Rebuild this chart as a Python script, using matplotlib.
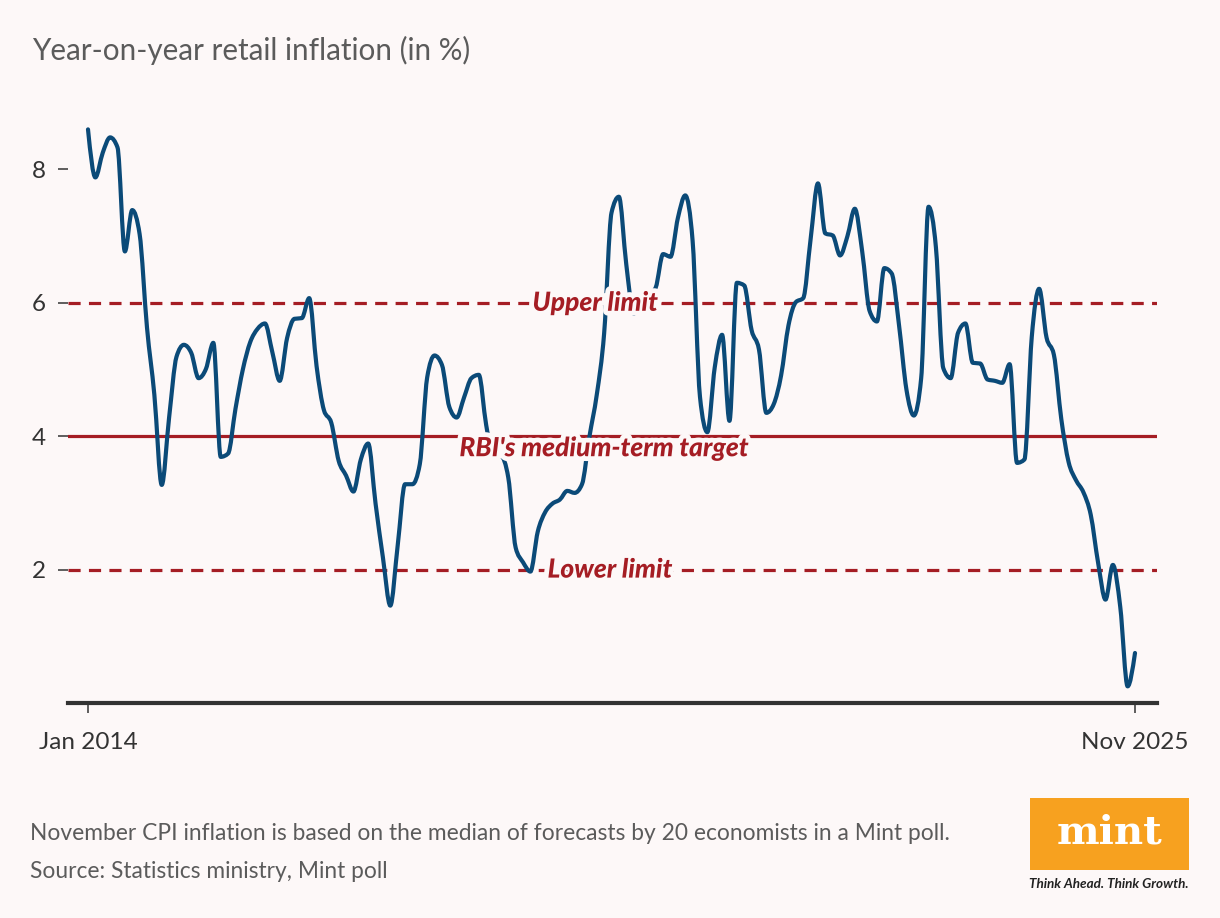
import numpy as np
import matplotlib
matplotlib.use("Agg")
import matplotlib.pyplot as plt
from matplotlib.path import Path
from matplotlib.patches import PathPatch, Rectangle
import matplotlib.patheffects as pe

# Year-on-year CPI inflation (%), Jan 2014 .. Nov 2025 (Nov 2025 = Mint poll median)
cpi_2014 = [8.60, 7.88, 8.25, 8.48, 8.33, 6.77, 7.39, 7.03, 5.63, 4.62, 3.27, 4.28]
cpi_2015 = [5.19, 5.37, 5.25, 4.87, 5.01, 5.40, 3.69, 3.74, 4.41, 5.00, 5.41, 5.61]
cpi_2016 = [5.69, 5.26, 4.83, 5.47, 5.76, 5.77, 6.07, 5.05, 4.39, 4.20, 3.63, 3.41]
cpi_2017 = [3.17, 3.65, 3.89, 2.99, 2.18, 1.46, 2.36, 3.28, 3.28, 3.58, 4.88, 5.21]
cpi_2018 = [5.07, 4.44, 4.28, 4.58, 4.87, 4.92, 4.17, 3.69, 3.70, 3.38, 2.33, 2.11]
cpi_2019 = [1.97, 2.57, 2.86, 2.99, 3.05, 3.18, 3.15, 3.28, 3.99, 4.62, 5.54, 7.35]
cpi_2020 = [7.59, 6.58, 5.84, 5.95, 6.10, 6.23, 6.73, 6.69, 7.27, 7.61, 6.93, 4.59]
cpi_2021 = [4.06, 5.03, 5.52, 4.23, 6.30, 6.26, 5.59, 5.30, 4.35, 4.48, 4.91, 5.66]
cpi_2022 = [6.01, 6.07, 6.95, 7.79, 7.04, 7.01, 6.71, 7.00, 7.41, 6.77, 5.88, 5.72]
cpi_2023 = [6.52, 6.44, 5.66, 4.70, 4.31, 4.87, 7.44, 6.83, 5.02, 4.87, 5.55, 5.69]
cpi_2024 = [5.10, 5.09, 4.85, 4.83, 4.80, 5.08, 3.60, 3.65, 5.49, 6.21, 5.48, 5.22]
cpi_2025 = [4.26, 3.61, 3.34, 3.16, 2.82, 2.10, 1.55, 2.07, 1.44, 0.25, 0.75]

inflation = (cpi_2014 + cpi_2015 + cpi_2016 + cpi_2017 + cpi_2018 + cpi_2019
             + cpi_2020 + cpi_2021 + cpi_2022 + cpi_2023 + cpi_2024 + cpi_2025)
months = np.arange(len(inflation))

y_ticks = [2, 4, 6, 8]
x_tick_labels = ["Jan 2014", "Nov 2025"]
upper_limit = 6
target = 4
lower_limit = 2

BG = "#fdf8f8"
BLUE = "#0b4a78"
RED = "#a51d24"
DARK = "#333333"
GREY = "#5b5b5b"
FONT = ["Lato", "DejaVu Sans"]


def monotone_path(x, y):
    # same idea as d3.curveMonotoneX, built as cubic bezier segments
    x = np.asarray(x, float)
    y = np.asarray(y, float)
    h = np.diff(x)
    s = np.diff(y) / h
    t = np.zeros(len(x))
    for i in range(1, len(x) - 1):
        s0, s1 = s[i - 1], s[i]
        p = (s0 * h[i] + s1 * h[i - 1]) / (h[i - 1] + h[i])
        t[i] = (np.sign(s0) + np.sign(s1)) * min(abs(s0), abs(s1), 0.5 * abs(p))
    t[0] = (3 * s[0] - t[1]) / 2
    t[-1] = (3 * s[-1] - t[-2]) / 2

    verts = [(x[0], y[0])]
    codes = [Path.MOVETO]
    for i in range(len(x) - 1):
        dx = h[i] / 3
        verts += [(x[i] + dx, y[i] + dx * t[i]),
                  (x[i + 1] - dx, y[i + 1] - dx * t[i + 1]),
                  (x[i + 1], y[i + 1])]
        codes += [Path.CURVE4] * 3
    return Path(verts, codes)


plt.rcParams["font.family"] = FONT

fig = plt.figure(figsize=(12.2, 9.18), dpi=100, facecolor=BG)
W, H = 1220, 918
left_px, right_px, top_px, bottom_px = 68, 1157, 110, 703
ax = fig.add_axes([left_px / W, 1 - bottom_px / H,
                   (right_px - left_px) / W, (bottom_px - top_px) / H])
ax.set_facecolor(BG)

px_per_month = (1135 - 88) / (len(inflation) - 1)
ax.set_xlim(-(88 - left_px) / px_per_month,
            len(inflation) - 1 + (right_px - 1135) / px_per_month)
ax.set_ylim(0, (bottom_px - top_px) / 66.7)

# reference lines
dash = (3.8, 2.6)
ax.axhline(upper_limit, color=RED, lw=2.3, linestyle=(0, dash), zorder=2)
ax.axhline(lower_limit, color=RED, lw=2.3, linestyle=(0, dash), zorder=2)
ax.axhline(target, color=RED, lw=2.3, zorder=2)

# inflation line
ax.add_patch(PathPatch(monotone_path(months, inflation), fill=False,
                       edgecolor=BLUE, lw=3.0, capstyle="round",
                       joinstyle="round", zorder=3))

halo = [pe.withStroke(linewidth=7, foreground=BG)]
label_kw = dict(color=RED, fontsize=19, fontweight="black", fontstyle="italic",
                ha="center", va="center", zorder=5, path_effects=halo)
ax.text(68.8, upper_limit, "Upper limit", **label_kw)
ax.text(70.0, target - 0.18, "RBI's medium-term target", **label_kw)
ax.text(70.8, lower_limit, "Lower limit", **label_kw)

for side in ("left", "top", "right"):
    ax.spines[side].set_visible(False)
ax.spines["bottom"].set_color(DARK)
ax.spines["bottom"].set_linewidth(3)

ax.set_yticks(y_ticks)
ax.set_yticklabels([str(v) for v in y_ticks])
ax.set_xticks([months[0], months[-1]])
ax.set_xticklabels(x_tick_labels)
ax.tick_params(axis="y", length=7, width=1.1, pad=9, colors=DARK,
               labelsize=17.5)
ax.tick_params(axis="x", length=7, width=1.1, pad=14, colors=DARK,
               labelsize=17.5)

fig.text(32 / W, 1 - 50 / H, "Year-on-year retail inflation (in %)",
         fontsize=21.3, color=GREY, ha="left", va="center")
fig.text(30 / W, 1 - 833 / H,
         "November CPI inflation is based on the median of forecasts by 20 economists in a Mint poll.",
         fontsize=16.4, color=GREY, ha="left", va="center")
fig.text(30 / W, 1 - 871 / H, "Source: Statistics ministry, Mint poll",
         fontsize=16.4, color=GREY, ha="left", va="center")

# logo
fig.patches.append(Rectangle((1030 / W, 1 - 870 / H), 159 / W, 72 / H,
                             transform=fig.transFigure, facecolor="#f7a11f",
                             edgecolor="none"))
fig.text(1109 / W, 1 - 833 / H, "mint", family="DejaVu Serif",
         fontweight="bold", fontsize=29, color="white", ha="center",
         va="center")
fig.text(1109 / W, 1 - 884 / H, "Think Ahead. Think Growth.",
         fontsize=9.7, fontweight="bold", fontstyle="italic", color="#222222",
         ha="center", va="center")

fig.savefig("out.png", dpi=100, facecolor=BG)
